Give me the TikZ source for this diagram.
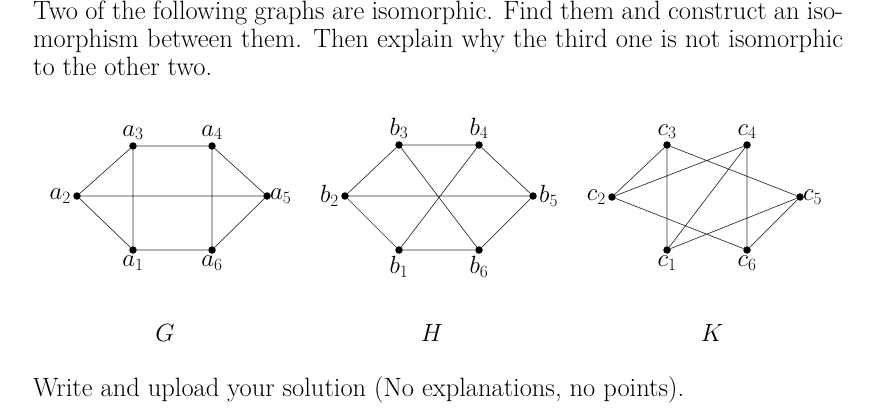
\documentclass[tikz,border=0pt]{standalone}
\begin{document}
\begin{tikzpicture}[x=1pt,y=-1pt,
  v/.style={circle,fill=black,inner sep=0pt,minimum size=7.5pt},
  lbl/.style={font=\fontsize{26}{28}\selectfont,inner sep=2pt},
  e/.style={line width=0.7pt, black!80}]
\useasboundingbox (0,0) rectangle (875,417);
\node[anchor=north west,inner sep=0pt,text width=810pt,align=justify,font=\fontsize{26.5}{28}\selectfont] (txt) at (33,1)
{Two of the following graphs are isomorphic. Find them and construct an iso-\linebreak morphism between them. Then explain why the third one is not isomorphic\linebreak to the other two.};
% G
\node[v,label={[lbl]left:$a_2$}] (a2) at (77,196) {};
\node[v,label={[lbl]above:$a_3$}] (a3) at (133,146) {};
\node[v,label={[lbl]above:$a_4$}] (a4) at (212,146) {};
\node[v,label={[lbl,xshift=-3pt]right:$a_5$}] (a5) at (267,196) {};
\node[v,label={[lbl]below:$a_1$}] (a1) at (133,250) {};
\node[v,label={[lbl]below:$a_6$}] (a6) at (212,250) {};
\draw[e] (a2)--(a3) (a3)--(a4) (a4)--(a5) (a5)--(a6) (a6)--(a1) (a1)--(a2) (a2)--(a5) (a3)--(a1) (a4)--(a6);
% H
\node[v,label={[lbl]left:$b_2$}] (b2) at (345,196) {};
\node[v,label={[lbl]above:$b_3$}] (b3) at (399,145) {};
\node[v,label={[lbl]above:$b_4$}] (b4) at (479,145) {};
\node[v,label={[lbl]right:$b_5$}] (b5) at (533,196) {};
\node[v,label={[lbl]below:$b_1$}] (b1) at (399,250) {};
\node[v,label={[lbl]below:$b_6$}] (b6) at (479,250) {};
\draw[e] (b2)--(b3) (b3)--(b4) (b4)--(b5) (b5)--(b6) (b6)--(b1) (b1)--(b2) (b2)--(b5) (b3)--(b6) (b4)--(b1);
% K
\node[v,label={[lbl]left:$c_2$}] (c2) at (612,197) {};
\node[v,label={[lbl]above:$c_3$}] (c3) at (667,145) {};
\node[v,label={[lbl]above:$c_4$}] (c4) at (747,145) {};
\node[v,label={[lbl,xshift=-3pt]right:$c_5$}] (c5) at (800,197) {};
\node[v,label={[lbl]below:$c_1$}] (c1) at (667,250) {};
\node[v,label={[lbl]below:$c_6$}] (c6) at (747,250) {};
\draw[e] (c2)--(c3) (c2)--(c4) (c2)--(c6) (c3)--(c1) (c3)--(c5) (c4)--(c1) (c4)--(c6) (c1)--(c5) (c6)--(c5);
\node[lbl] (G) at (165,333) {$G$};
\node[lbl] (H) at (432,333) {$H$};
\node[lbl] (K) at (712,333) {$K$};
\node[anchor=west,inner sep=0pt,font=\fontsize{26.5}{28}\selectfont] (foot) at (33,390) {Write and upload your solution (No explanations, no points).};
\end{tikzpicture}
\end{document}
